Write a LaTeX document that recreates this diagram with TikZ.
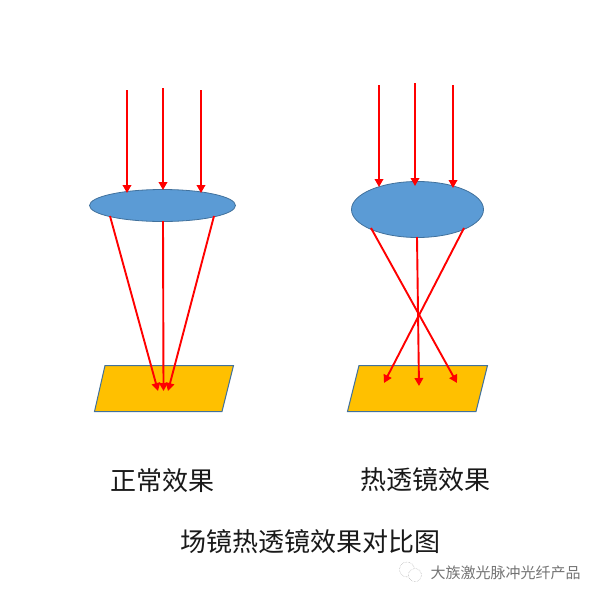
\documentclass[tikz,border=0pt]{standalone}
\usepackage{fontspec}
\setmainfont{Noto Sans CJK SC}
\usetikzlibrary{arrows.meta,shapes.geometric}
\definecolor{lensblue}{HTML}{5B9BD5}
\definecolor{lensedge}{HTML}{41719C}
\definecolor{plateyellow}{HTML}{FFC000}
\tikzset{
  ray/.style={draw=red,line width=1.9pt,-{Triangle[length=8pt,width=8.5pt]}},
  lens/.style={draw=lensedge,fill=lensblue,line width=0.8pt},
  plate/.style={draw=lensedge,fill=plateyellow,line width=1pt},
  lbl/.style={inner sep=0pt,font=\fontsize{26}{26}\selectfont,text=black!90},
  logoring/.style={draw=black!35,line width=0.5pt,densely dotted,fill=white}
}
\begin{document}
\begin{tikzpicture}[x=1pt,y=-1pt]
\useasboundingbox (0,0) rectangle (600,600);
% plates
\path[plate] (105,365.5) -- (233.5,365.5) -- (222,411.5) -- (94.5,411.5) -- cycle;
\path[plate] (359,365.5) -- (487.5,365.5) -- (476,411.5) -- (347.5,411.5) -- cycle;
% lenses
\node[lens,ellipse,minimum width=146pt,minimum height=32pt,inner sep=0pt] (lensA) at (162.5,205.5) {};
\node[lens,ellipse,minimum width=132pt,minimum height=56pt,inner sep=0pt] (lensB) at (417.5,209.5) {};
% free ends
\coordinate (a1) at (127,90); \coordinate (a1e) at (127,193);
\coordinate (a2) at (163,88); \coordinate (a2e) at (163,190);
\coordinate (a3) at (201,90); \coordinate (a3e) at (201,193);
\coordinate (a4) at (110,216); \coordinate (a4e) at (158,391);
\coordinate (a5) at (163,221); \coordinate (a5e) at (163.5,391);
\coordinate (a6) at (214,216); \coordinate (a6e) at (168,391);
\coordinate (b1) at (379,85); \coordinate (b1e) at (379,187);
\coordinate (b2) at (415,83); \coordinate (b2e) at (415,186);
\coordinate (b3) at (453,85); \coordinate (b3e) at (453,188);
\coordinate (b4) at (371,228); \coordinate (b4e) at (457,383);
\coordinate (b5) at (417,237); \coordinate (b5e) at (419,386);
\coordinate (b6) at (464,228); \coordinate (b6e) at (384,383);
\foreach \s/\e in {a1/a1e,a2/a2e,a3/a3e,a4/a4e,a5/a5e,a6/a6e,b1/b1e,b2/b2e,b3/b3e,b4/b4e,b5/b5e,b6/b6e}
  \draw[ray] (\s) -- (\e);
% labels
\node[lbl] (t1) at (162,481) {正常效果};
\node[lbl] (t2) at (425,480) {热透镜效果};
\node[lbl] (t3) at (310.5,542) {场镜热透镜效果对比图};
\node[inner sep=0pt,font=\fontsize{15}{15}\selectfont,text=black!55] (wm) at (505.5,572.5) {大族激光脉冲光纤产品};
% logo
\path[logoring] (407,569.5) circle (7.5);
\path[logoring] (415,575) circle (6.5);
\end{tikzpicture}
\end{document}
